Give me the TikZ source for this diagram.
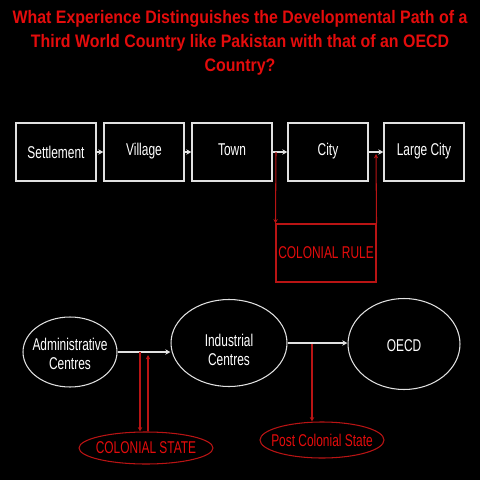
\documentclass[tikz,border=0pt]{standalone}
\usepackage{fontspec}
\usepackage{tikz}
\usetikzlibrary{shapes.geometric,arrows.meta}
\newfontfamily\bodyfont[FakeStretch=0.7]{Liberation Sans}
\newfontfamily\titlefont[FakeStretch=0.88]{Liberation Sans}
\definecolor{slidered}{RGB}{228,12,12}
\definecolor{linered}{RGB}{185,20,20}
\definecolor{linegray}{RGB}{225,225,225}

\begin{document}
\begin{tikzpicture}[x=0.02cm,y=-0.02cm,
    stage/.style={draw=linegray,line width=0.6pt,minimum width=1.6cm,
        minimum height=1.16cm,inner sep=0pt,text=white,
        font=\bodyfont\fontsize{9.7}{11.6}\selectfont},
    centre/.style={draw=linegray,ellipse,line width=0.6pt,inner sep=0pt},
    statebox/.style={draw=linered,ellipse,line width=0.6pt,inner sep=0pt},
    centretext/.style={align=center,text=white,
        font=\bodyfont\fontsize{9.7}{10.8}\selectfont},
    flow/.style={linegray,line width=0.6pt,-{Stealth[length=3pt,width=3pt]}},
    redflow/.style={linered,line width=0.6pt,-{Stealth[length=2.5pt,width=2.5pt]}}]

% Background
\fill[black] (0,0) rectangle (480,480);

% Title
\node[text=slidered,align=center,
    font=\titlefont\bfseries\fontsize{10.3}{13.6}\selectfont]
    (title) at (240,43) {What Experience Distinguishes the Developmental Path of a\\
    Third World Country like Pakistan with that of an OECD\\Country?};

% Stages of settlement
\node[stage] (settle) at (56,152) {Settlement};
\node[stage] (village) at (144,152) {\raisebox{2.5pt}{Village}};
\node[stage] (town) at (232,152) {\raisebox{2.5pt}{Town}};
\node[stage] (city) at (328,152) {\raisebox{2.5pt}{City}};
\node[stage] (large) at (424,152) {\raisebox{2.5pt}{Large City}};

\draw[flow] (settle) -- (village);
\draw[flow] (village) -- (town);
\draw[flow] (town) -- (city);
\draw[flow] (city) -- (large);

% Colonial rule
\node[draw=linered,line width=0.6pt,minimum width=2cm,minimum height=1.16cm,
    inner sep=0pt,text=slidered,font=\bodyfont\fontsize{9.7}{11.6}\selectfont]
    (rule) at (326,253) {COLONIAL RULE};
\coordinate (ruleA) at (276,152);
\coordinate (ruleB) at (376,154);
\draw[redflow] (ruleA) -- (rule.north west);
\draw[redflow] (rule.north east) -- (ruleB);

% Centres
\node[centre,minimum width=1.88cm,minimum height=1.4cm,
    label={[centretext,yshift=-1pt]center:Administrative\\Centres}]
    (admin) at (70,352) {};
\node[centre,minimum width=2.32cm,minimum height=1.74cm,
    label={[centretext,yshift=-4pt]center:Industrial\\Centres}]
    (industry) at (229,343) {};
\node[centre,minimum width=2.24cm,minimum height=1.82cm,
    label={[centretext,yshift=-1pt]center:OECD}]
    (oecd) at (404,344) {};

\draw[flow] (admin.east) -- (admin.east -| industry.west);
\draw[flow] (industry.east) -- (industry.east -| oecd.west);

% States
\node[statebox,minimum width=2.68cm,minimum height=0.64cm,
    label={[text=slidered,font=\bodyfont\fontsize{9.7}{11.6}\selectfont]center:COLONIAL STATE}]
    (colstate) at (146,448) {};
\node[statebox,minimum width=2.48cm,minimum height=0.72cm,
    label={[text=slidered,font=\bodyfont\fontsize{9.7}{11.6}\selectfont]center:Post Colonial State}]
    (poststate) at (322,440) {};

\coordinate (stateA) at (140,352);
\coordinate (stateB) at (148,355);
\coordinate (postA) at (312,344);
\draw[redflow] (stateA) -- (stateA |- colstate.north);
\draw[redflow] (stateB |- colstate.north) -- (stateB);
\draw[redflow] (postA) -- (postA |- poststate.north);

\end{tikzpicture}
\end{document}
